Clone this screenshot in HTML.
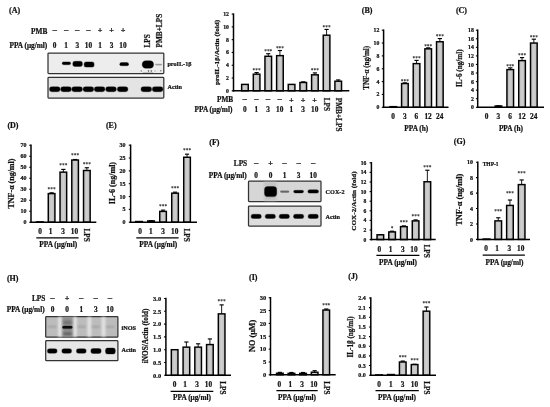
<!DOCTYPE html>
<html><head><meta charset="utf-8"><title>Figure</title>
<style>
html,body{margin:0;padding:0;background:#fff;}
body{width:550px;height:407px;overflow:hidden;}
svg{display:block;}
text{font-family:"Liberation Serif", "Times New Roman", serif;font-weight:bold;fill:#111;stroke:#111;stroke-width:0.22px;}
text.st{fill:#222;stroke:none;}
</style></head><body>
<svg width="550" height="407" viewBox="0 0 550 407">
<defs>
<linearGradient id="bg" x1="0" x2="1" y1="0" y2="0"><stop offset="0" stop-color="#b8b8b8"/><stop offset="0.5" stop-color="#d0d0d0"/><stop offset="1" stop-color="#b8b8b8"/></linearGradient>
<filter id="b0" x="-50%" y="-50%" width="200%" height="200%"><feGaussianBlur stdDeviation="0.8"/></filter>
<filter id="b1" x="-50%" y="-80%" width="200%" height="260%"><feGaussianBlur stdDeviation="0.8"/></filter>
<filter id="b2" x="-50%" y="-80%" width="200%" height="260%"><feGaussianBlur stdDeviation="1.0"/></filter>
</defs>
<rect width="550" height="407" fill="#fff"/>
<text x="9.00" y="12.80" font-size="8" text-anchor="start">(A)</text>
<text x="361.80" y="12.80" font-size="8" text-anchor="start">(B)</text>
<text x="455.90" y="12.80" font-size="8" text-anchor="start">(C)</text>
<text x="7.40" y="127.90" font-size="8" text-anchor="start">(D)</text>
<text x="105.90" y="127.90" font-size="8" text-anchor="start">(E)</text>
<text x="209.30" y="145.00" font-size="8" text-anchor="start">(F)</text>
<text x="453.80" y="144.30" font-size="8" text-anchor="start">(G)</text>
<text x="6.90" y="280.50" font-size="8" text-anchor="start">(H)</text>
<text x="249.00" y="280.20" font-size="8" text-anchor="start">(I)</text>
<text x="348.30" y="279.20" font-size="8" text-anchor="start">(J)</text>
<text x="47.30" y="34.00" font-size="7.3" text-anchor="end">PMB</text>
<text x="47.30" y="48.00" font-size="7.3" text-anchor="end">PPA (μg/ml)</text>
<text x="54.70" y="33.73" font-size="9.5" text-anchor="middle">−</text>
<text x="54.70" y="48.00" font-size="7.3" text-anchor="middle">0</text>
<text x="66.10" y="33.73" font-size="9.5" text-anchor="middle">−</text>
<text x="66.10" y="48.00" font-size="7.3" text-anchor="middle">1</text>
<text x="77.30" y="33.73" font-size="9.5" text-anchor="middle">−</text>
<text x="77.30" y="48.00" font-size="7.3" text-anchor="middle">3</text>
<text x="88.50" y="33.73" font-size="9.5" text-anchor="middle">−</text>
<text x="88.50" y="48.00" font-size="7.3" text-anchor="middle">10</text>
<text x="100.00" y="33.31" font-size="8.2" text-anchor="middle">+</text>
<text x="100.00" y="48.00" font-size="7.3" text-anchor="middle">1</text>
<text x="111.50" y="33.31" font-size="8.2" text-anchor="middle">+</text>
<text x="111.50" y="48.00" font-size="7.3" text-anchor="middle">3</text>
<text x="123.00" y="33.31" font-size="8.2" text-anchor="middle">+</text>
<text x="123.00" y="48.00" font-size="7.3" text-anchor="middle">10</text>
<text x="149.60" y="47.50" font-size="7.3" text-anchor="start" transform="rotate(-90 149.60 47.50)">LPS</text>
<text x="161.60" y="47.50" font-size="7.3" text-anchor="start" transform="rotate(-90 161.60 47.50)">PMB+LPS</text>
<rect x="48.00" y="53.00" width="115.80" height="20.60" fill="#ededed" stroke="#333" stroke-width="1.25" rx="0.8"/>
<rect x="48.00" y="77.40" width="115.80" height="20.60" fill="#e4e4e4" stroke="#333" stroke-width="1.25" rx="0.8"/>
<rect x="62.20" y="61.90" width="8.40" height="2.80" rx="1.40" fill="#000" fill-opacity="1" stroke="#000" stroke-opacity="0.30" stroke-width="1.1"/>
<rect x="72.80" y="61.20" width="9.60" height="5.20" rx="2.20" fill="#000" fill-opacity="1" stroke="#000" stroke-opacity="0.30" stroke-width="1.1"/>
<rect x="84.10" y="61.90" width="10.00" height="5.20" rx="2.20" fill="#000" fill-opacity="1" stroke="#000" stroke-opacity="0.30" stroke-width="1.1"/>
<rect x="119.80" y="62.60" width="8.80" height="3.20" rx="1.60" fill="#000" fill-opacity="1" stroke="#000" stroke-opacity="0.30" stroke-width="1.1"/>
<rect x="142.20" y="60.80" width="11.40" height="7.40" rx="3.70" fill="#000" fill-opacity="1" stroke="#000" stroke-opacity="0.30" stroke-width="1.1"/>
<circle cx="141.3" cy="70.9" r="0.75" fill="#000" opacity="0.45"/>
<circle cx="148.5" cy="71.0" r="0.75" fill="#000" opacity="0.7"/>
<circle cx="151.3" cy="71.0" r="0.75" fill="#000" opacity="0.7"/>
<circle cx="155.0" cy="71.0" r="0.75" fill="#000" opacity="0.25"/>
<circle cx="160.8" cy="70.8" r="0.75" fill="#000" opacity="0.5"/>
<rect x="143" y="72.3" width="10" height="1.2" fill="#000" opacity="0.25"/>
<rect x="155.35" y="63.90" width="6.50" height="1.40" rx="0.70" fill="#000" fill-opacity="0.3" stroke="#000" stroke-opacity="0.09" stroke-width="1.1"/>
<rect x="49.50" y="86.70" width="10.60" height="5.00" rx="2.40" fill="#000" fill-opacity="1" stroke="#000" stroke-opacity="0.30" stroke-width="1.1"/>
<rect x="60.70" y="86.70" width="10.60" height="5.00" rx="2.40" fill="#000" fill-opacity="1" stroke="#000" stroke-opacity="0.30" stroke-width="1.1"/>
<rect x="71.80" y="86.70" width="10.60" height="5.00" rx="2.40" fill="#000" fill-opacity="1" stroke="#000" stroke-opacity="0.30" stroke-width="1.1"/>
<rect x="83.10" y="86.70" width="10.60" height="5.00" rx="2.40" fill="#000" fill-opacity="1" stroke="#000" stroke-opacity="0.30" stroke-width="1.1"/>
<rect x="94.30" y="86.70" width="10.60" height="5.00" rx="2.40" fill="#000" fill-opacity="1" stroke="#000" stroke-opacity="0.30" stroke-width="1.1"/>
<rect x="105.70" y="86.70" width="10.60" height="5.00" rx="2.40" fill="#000" fill-opacity="1" stroke="#000" stroke-opacity="0.30" stroke-width="1.1"/>
<rect x="117.30" y="86.70" width="10.60" height="5.00" rx="2.40" fill="#000" fill-opacity="1" stroke="#000" stroke-opacity="0.30" stroke-width="1.1"/>
<rect x="141.00" y="86.70" width="10.60" height="5.00" rx="2.40" fill="#000" fill-opacity="1" stroke="#000" stroke-opacity="0.30" stroke-width="1.1"/>
<rect x="152.30" y="86.70" width="10.60" height="5.00" rx="2.40" fill="#000" fill-opacity="1" stroke="#000" stroke-opacity="0.30" stroke-width="1.1"/>
<text x="167.40" y="65.60" font-size="6.2" text-anchor="start">proIL-1β</text>
<text x="167.50" y="88.70" font-size="6.2" text-anchor="start">Actin</text>
<rect x="241.62" y="84.41" width="6.65" height="6.39" fill="url(#bg)" stroke="#000" stroke-width="1.45"/>
<line x1="256.61" y1="74.18" x2="256.61" y2="72.58" stroke="#000" stroke-width="0.9"/>
<line x1="254.51" y1="72.58" x2="258.71" y2="72.58" stroke="#000" stroke-width="1.15"/>
<rect x="253.28" y="74.18" width="6.65" height="16.62" fill="url(#bg)" stroke="#000" stroke-width="1.45"/>
<text x="256.61" y="72.09" font-size="5.4" text-anchor="middle" class="st">***</text>
<line x1="268.27" y1="56.28" x2="268.27" y2="53.73" stroke="#000" stroke-width="0.9"/>
<line x1="266.17" y1="53.73" x2="270.37" y2="53.73" stroke="#000" stroke-width="1.15"/>
<rect x="264.94" y="56.28" width="6.65" height="34.52" fill="url(#bg)" stroke="#000" stroke-width="1.45"/>
<text x="268.27" y="53.24" font-size="5.4" text-anchor="middle" class="st">***</text>
<line x1="279.93" y1="55.65" x2="279.93" y2="50.53" stroke="#000" stroke-width="0.9"/>
<line x1="277.83" y1="50.53" x2="282.03" y2="50.53" stroke="#000" stroke-width="1.15"/>
<rect x="276.60" y="55.65" width="6.65" height="35.15" fill="url(#bg)" stroke="#000" stroke-width="1.45"/>
<text x="279.93" y="50.04" font-size="5.4" text-anchor="middle" class="st">***</text>
<rect x="288.26" y="84.41" width="6.65" height="6.39" fill="url(#bg)" stroke="#000" stroke-width="1.45"/>
<line x1="303.25" y1="82.49" x2="303.25" y2="81.85" stroke="#000" stroke-width="0.9"/>
<line x1="301.15" y1="81.85" x2="305.35" y2="81.85" stroke="#000" stroke-width="1.15"/>
<rect x="299.92" y="82.49" width="6.65" height="8.31" fill="url(#bg)" stroke="#000" stroke-width="1.45"/>
<line x1="314.91" y1="74.82" x2="314.91" y2="72.90" stroke="#000" stroke-width="0.9"/>
<line x1="312.81" y1="72.90" x2="317.01" y2="72.90" stroke="#000" stroke-width="1.15"/>
<rect x="311.58" y="74.82" width="6.65" height="15.98" fill="url(#bg)" stroke="#000" stroke-width="1.45"/>
<text x="314.91" y="72.41" font-size="5.4" text-anchor="middle" class="st">***</text>
<line x1="326.57" y1="35.19" x2="326.57" y2="29.44" stroke="#000" stroke-width="0.9"/>
<line x1="324.47" y1="29.44" x2="328.67" y2="29.44" stroke="#000" stroke-width="1.15"/>
<rect x="323.24" y="35.19" width="6.65" height="55.61" fill="url(#bg)" stroke="#000" stroke-width="1.45"/>
<text x="326.57" y="28.95" font-size="5.4" text-anchor="middle" class="st">***</text>
<line x1="338.23" y1="81.21" x2="338.23" y2="79.93" stroke="#000" stroke-width="0.9"/>
<line x1="336.13" y1="79.93" x2="340.33" y2="79.93" stroke="#000" stroke-width="1.15"/>
<rect x="334.90" y="81.21" width="6.65" height="9.59" fill="url(#bg)" stroke="#000" stroke-width="1.45"/>
<line x1="233.50" y1="13.40" x2="233.50" y2="91.55" stroke="#000" stroke-width="1.5"/>
<line x1="232.75" y1="90.80" x2="349.30" y2="90.80" stroke="#000" stroke-width="1.5"/>
<line x1="231.70" y1="90.80" x2="233.50" y2="90.80" stroke="#000" stroke-width="1.1"/>
<text x="229.00" y="92.83" font-size="5.8" text-anchor="end">0</text>
<line x1="231.70" y1="78.02" x2="233.50" y2="78.02" stroke="#000" stroke-width="1.1"/>
<text x="229.00" y="80.05" font-size="5.8" text-anchor="end">2</text>
<line x1="231.70" y1="65.23" x2="233.50" y2="65.23" stroke="#000" stroke-width="1.1"/>
<text x="229.00" y="67.26" font-size="5.8" text-anchor="end">4</text>
<line x1="231.70" y1="52.45" x2="233.50" y2="52.45" stroke="#000" stroke-width="1.1"/>
<text x="229.00" y="54.48" font-size="5.8" text-anchor="end">6</text>
<line x1="231.70" y1="39.67" x2="233.50" y2="39.67" stroke="#000" stroke-width="1.1"/>
<text x="229.00" y="41.70" font-size="5.8" text-anchor="end">8</text>
<line x1="231.70" y1="26.88" x2="233.50" y2="26.88" stroke="#000" stroke-width="1.1"/>
<text x="229.00" y="28.91" font-size="5.8" text-anchor="end">10</text>
<line x1="231.70" y1="14.10" x2="233.50" y2="14.10" stroke="#000" stroke-width="1.1"/>
<text x="229.00" y="16.13" font-size="5.8" text-anchor="end">12</text>
<text x="219.30" y="52.45" font-size="6.7" text-anchor="middle" transform="rotate(-90 219.30 52.45)" textLength="65.2" lengthAdjust="spacingAndGlyphs">proIL-1β/Actin (fold)</text>
<text x="233.20" y="102.40" font-size="7.3" text-anchor="end">PMB</text>
<text x="232.40" y="111.80" font-size="7.3" text-anchor="end">PPA (μg/ml)</text>
<text x="244.75" y="103.14" font-size="9.5" text-anchor="middle">−</text>
<text x="244.75" y="111.80" font-size="7.3" text-anchor="middle">0</text>
<text x="256.41" y="103.14" font-size="9.5" text-anchor="middle">−</text>
<text x="256.41" y="111.80" font-size="7.3" text-anchor="middle">1</text>
<text x="268.07" y="103.14" font-size="9.5" text-anchor="middle">−</text>
<text x="268.07" y="111.80" font-size="7.3" text-anchor="middle">3</text>
<text x="279.73" y="103.14" font-size="9.5" text-anchor="middle">−</text>
<text x="279.73" y="111.80" font-size="7.3" text-anchor="middle">10</text>
<text x="291.39" y="102.71" font-size="8.2" text-anchor="middle">+</text>
<text x="291.39" y="111.80" font-size="7.3" text-anchor="middle">1</text>
<text x="303.05" y="102.71" font-size="8.2" text-anchor="middle">+</text>
<text x="303.05" y="111.80" font-size="7.3" text-anchor="middle">3</text>
<text x="314.71" y="102.71" font-size="8.2" text-anchor="middle">+</text>
<text x="314.71" y="111.80" font-size="7.3" text-anchor="middle">10</text>
<text x="323.90" y="97.70" font-size="7.3" text-anchor="start" transform="rotate(90 323.90 97.70)">LPS</text>
<text x="335.80" y="97.70" font-size="7.3" text-anchor="start" transform="rotate(90 335.80 97.70)">PMB+LPS</text>
<rect x="389.92" y="106.66" width="6.65" height="0.64" fill="url(#bg)" stroke="#000" stroke-width="1.45"/>
<line x1="404.90" y1="83.53" x2="404.90" y2="82.88" stroke="#000" stroke-width="0.9"/>
<line x1="402.80" y1="82.88" x2="407.00" y2="82.88" stroke="#000" stroke-width="1.15"/>
<rect x="401.57" y="83.53" width="6.65" height="23.77" fill="url(#bg)" stroke="#000" stroke-width="1.45"/>
<text x="404.90" y="82.69" font-size="5.4" text-anchor="middle" class="st">***</text>
<line x1="416.55" y1="63.61" x2="416.55" y2="60.40" stroke="#000" stroke-width="0.9"/>
<line x1="414.45" y1="60.40" x2="418.65" y2="60.40" stroke="#000" stroke-width="1.15"/>
<rect x="413.22" y="63.61" width="6.65" height="43.69" fill="url(#bg)" stroke="#000" stroke-width="1.45"/>
<text x="416.55" y="60.21" font-size="5.4" text-anchor="middle" class="st">***</text>
<line x1="428.20" y1="48.83" x2="428.20" y2="47.87" stroke="#000" stroke-width="0.9"/>
<line x1="426.10" y1="47.87" x2="430.30" y2="47.87" stroke="#000" stroke-width="1.15"/>
<rect x="424.87" y="48.83" width="6.65" height="58.47" fill="url(#bg)" stroke="#000" stroke-width="1.45"/>
<text x="428.20" y="47.68" font-size="5.4" text-anchor="middle" class="st">***</text>
<line x1="439.85" y1="41.77" x2="439.85" y2="38.55" stroke="#000" stroke-width="0.9"/>
<line x1="437.75" y1="38.55" x2="441.95" y2="38.55" stroke="#000" stroke-width="1.15"/>
<rect x="436.52" y="41.77" width="6.65" height="65.53" fill="url(#bg)" stroke="#000" stroke-width="1.45"/>
<text x="439.85" y="38.36" font-size="5.4" text-anchor="middle" class="st">***</text>
<line x1="383.60" y1="29.50" x2="383.60" y2="108.05" stroke="#000" stroke-width="1.5"/>
<line x1="382.85" y1="107.30" x2="448.50" y2="107.30" stroke="#000" stroke-width="1.5"/>
<line x1="381.80" y1="107.30" x2="383.60" y2="107.30" stroke="#000" stroke-width="1.1"/>
<text x="379.40" y="109.33" font-size="5.8" text-anchor="end">0</text>
<line x1="381.80" y1="94.45" x2="383.60" y2="94.45" stroke="#000" stroke-width="1.1"/>
<text x="379.40" y="96.48" font-size="5.8" text-anchor="end">2</text>
<line x1="381.80" y1="81.60" x2="383.60" y2="81.60" stroke="#000" stroke-width="1.1"/>
<text x="379.40" y="83.63" font-size="5.8" text-anchor="end">4</text>
<line x1="381.80" y1="68.75" x2="383.60" y2="68.75" stroke="#000" stroke-width="1.1"/>
<text x="379.40" y="70.78" font-size="5.8" text-anchor="end">6</text>
<line x1="381.80" y1="55.90" x2="383.60" y2="55.90" stroke="#000" stroke-width="1.1"/>
<text x="379.40" y="57.93" font-size="5.8" text-anchor="end">8</text>
<line x1="381.80" y1="43.05" x2="383.60" y2="43.05" stroke="#000" stroke-width="1.1"/>
<text x="379.40" y="45.08" font-size="5.8" text-anchor="end">10</text>
<line x1="381.80" y1="30.20" x2="383.60" y2="30.20" stroke="#000" stroke-width="1.1"/>
<text x="379.40" y="32.23" font-size="5.8" text-anchor="end">12</text>
<text x="368.60" y="67.85" font-size="7.4" text-anchor="middle" transform="rotate(-90 368.60 67.85)" textLength="43.8" lengthAdjust="spacingAndGlyphs">TNF-α (ng/ml)</text>
<text x="393.10" y="119.20" font-size="7.3" text-anchor="middle">0</text>
<text x="404.75" y="119.20" font-size="7.3" text-anchor="middle">3</text>
<text x="416.40" y="119.20" font-size="7.3" text-anchor="middle">6</text>
<text x="428.05" y="119.20" font-size="7.3" text-anchor="middle">12</text>
<text x="439.70" y="119.20" font-size="7.3" text-anchor="middle">24</text>
<text x="416.30" y="130.80" font-size="7.3" text-anchor="middle">PPA (h)</text>
<line x1="498.45" y1="106.02" x2="498.45" y2="105.80" stroke="#000" stroke-width="0.9"/>
<line x1="496.35" y1="105.80" x2="500.55" y2="105.80" stroke="#000" stroke-width="1.15"/>
<rect x="495.12" y="106.02" width="6.65" height="1.28" fill="url(#bg)" stroke="#000" stroke-width="1.45"/>
<line x1="510.25" y1="69.61" x2="510.25" y2="67.89" stroke="#000" stroke-width="0.9"/>
<line x1="508.15" y1="67.89" x2="512.35" y2="67.89" stroke="#000" stroke-width="1.15"/>
<rect x="506.92" y="69.61" width="6.65" height="37.69" fill="url(#bg)" stroke="#000" stroke-width="1.45"/>
<text x="510.25" y="67.70" font-size="5.4" text-anchor="middle" class="st">***</text>
<line x1="522.05" y1="60.61" x2="522.05" y2="57.61" stroke="#000" stroke-width="0.9"/>
<line x1="519.95" y1="57.61" x2="524.15" y2="57.61" stroke="#000" stroke-width="1.15"/>
<rect x="518.72" y="60.61" width="6.65" height="46.69" fill="url(#bg)" stroke="#000" stroke-width="1.45"/>
<text x="522.05" y="57.42" font-size="5.4" text-anchor="middle" class="st">***</text>
<line x1="533.85" y1="43.05" x2="533.85" y2="39.19" stroke="#000" stroke-width="0.9"/>
<line x1="531.75" y1="39.19" x2="535.95" y2="39.19" stroke="#000" stroke-width="1.15"/>
<rect x="530.52" y="43.05" width="6.65" height="64.25" fill="url(#bg)" stroke="#000" stroke-width="1.45"/>
<text x="533.85" y="39.00" font-size="5.4" text-anchor="middle" class="st">***</text>
<line x1="477.70" y1="29.50" x2="477.70" y2="108.05" stroke="#000" stroke-width="1.5"/>
<line x1="476.95" y1="107.30" x2="544.00" y2="107.30" stroke="#000" stroke-width="1.5"/>
<line x1="475.90" y1="107.30" x2="477.70" y2="107.30" stroke="#000" stroke-width="1.1"/>
<text x="473.80" y="109.33" font-size="5.8" text-anchor="end">0</text>
<line x1="475.90" y1="98.73" x2="477.70" y2="98.73" stroke="#000" stroke-width="1.1"/>
<text x="473.80" y="100.76" font-size="5.8" text-anchor="end">2</text>
<line x1="475.90" y1="90.17" x2="477.70" y2="90.17" stroke="#000" stroke-width="1.1"/>
<text x="473.80" y="92.20" font-size="5.8" text-anchor="end">4</text>
<line x1="475.90" y1="81.60" x2="477.70" y2="81.60" stroke="#000" stroke-width="1.1"/>
<text x="473.80" y="83.63" font-size="5.8" text-anchor="end">6</text>
<line x1="475.90" y1="73.03" x2="477.70" y2="73.03" stroke="#000" stroke-width="1.1"/>
<text x="473.80" y="75.06" font-size="5.8" text-anchor="end">8</text>
<line x1="475.90" y1="64.47" x2="477.70" y2="64.47" stroke="#000" stroke-width="1.1"/>
<text x="473.80" y="66.50" font-size="5.8" text-anchor="end">10</text>
<line x1="475.90" y1="55.90" x2="477.70" y2="55.90" stroke="#000" stroke-width="1.1"/>
<text x="473.80" y="57.93" font-size="5.8" text-anchor="end">12</text>
<line x1="475.90" y1="47.33" x2="477.70" y2="47.33" stroke="#000" stroke-width="1.1"/>
<text x="473.80" y="49.36" font-size="5.8" text-anchor="end">14</text>
<line x1="475.90" y1="38.77" x2="477.70" y2="38.77" stroke="#000" stroke-width="1.1"/>
<text x="473.80" y="40.80" font-size="5.8" text-anchor="end">16</text>
<line x1="475.90" y1="30.20" x2="477.70" y2="30.20" stroke="#000" stroke-width="1.1"/>
<text x="473.80" y="32.23" font-size="5.8" text-anchor="end">18</text>
<text x="461.90" y="68.25" font-size="7.4" text-anchor="middle" transform="rotate(-90 461.90 68.25)" textLength="37.6" lengthAdjust="spacingAndGlyphs">IL-6 (ng/ml)</text>
<text x="486.50" y="119.20" font-size="7.3" text-anchor="middle">0</text>
<text x="498.30" y="119.20" font-size="7.3" text-anchor="middle">3</text>
<text x="510.10" y="119.20" font-size="7.3" text-anchor="middle">6</text>
<text x="521.90" y="119.20" font-size="7.3" text-anchor="middle">12</text>
<text x="533.70" y="119.20" font-size="7.3" text-anchor="middle">24</text>
<text x="510.90" y="130.80" font-size="7.3" text-anchor="middle">PPA (h)</text>
<rect x="36.52" y="221.87" width="6.65" height="0.33" fill="url(#bg)" stroke="#000" stroke-width="1.45"/>
<line x1="51.60" y1="193.60" x2="51.60" y2="192.83" stroke="#000" stroke-width="0.9"/>
<line x1="49.50" y1="192.83" x2="53.70" y2="192.83" stroke="#000" stroke-width="1.15"/>
<rect x="48.27" y="193.60" width="6.65" height="28.60" fill="url(#bg)" stroke="#000" stroke-width="1.45"/>
<text x="51.60" y="190.64" font-size="5.4" text-anchor="middle" class="st">***</text>
<line x1="63.35" y1="172.15" x2="63.35" y2="169.40" stroke="#000" stroke-width="0.9"/>
<line x1="61.25" y1="169.40" x2="65.45" y2="169.40" stroke="#000" stroke-width="1.15"/>
<rect x="60.02" y="172.15" width="6.65" height="50.05" fill="url(#bg)" stroke="#000" stroke-width="1.45"/>
<text x="63.35" y="167.21" font-size="5.4" text-anchor="middle" class="st">***</text>
<line x1="75.10" y1="160.05" x2="75.10" y2="159.50" stroke="#000" stroke-width="0.9"/>
<line x1="73.00" y1="159.50" x2="77.20" y2="159.50" stroke="#000" stroke-width="1.15"/>
<rect x="71.77" y="160.05" width="6.65" height="62.15" fill="url(#bg)" stroke="#000" stroke-width="1.45"/>
<text x="75.10" y="157.31" font-size="5.4" text-anchor="middle" class="st">***</text>
<line x1="86.85" y1="170.50" x2="86.85" y2="167.75" stroke="#000" stroke-width="0.9"/>
<line x1="84.75" y1="167.75" x2="88.95" y2="167.75" stroke="#000" stroke-width="1.15"/>
<rect x="83.52" y="170.50" width="6.65" height="51.70" fill="url(#bg)" stroke="#000" stroke-width="1.45"/>
<text x="86.85" y="165.56" font-size="5.4" text-anchor="middle" class="st">***</text>
<line x1="31.00" y1="144.50" x2="31.00" y2="222.95" stroke="#000" stroke-width="1.5"/>
<line x1="30.25" y1="222.20" x2="96.30" y2="222.20" stroke="#000" stroke-width="1.5"/>
<line x1="29.20" y1="222.20" x2="31.00" y2="222.20" stroke="#000" stroke-width="1.1"/>
<text x="26.40" y="224.30" font-size="6.0" text-anchor="end">0</text>
<line x1="29.20" y1="211.20" x2="31.00" y2="211.20" stroke="#000" stroke-width="1.1"/>
<text x="26.40" y="213.30" font-size="6.0" text-anchor="end">10</text>
<line x1="29.20" y1="200.20" x2="31.00" y2="200.20" stroke="#000" stroke-width="1.1"/>
<text x="26.40" y="202.30" font-size="6.0" text-anchor="end">20</text>
<line x1="29.20" y1="189.20" x2="31.00" y2="189.20" stroke="#000" stroke-width="1.1"/>
<text x="26.40" y="191.30" font-size="6.0" text-anchor="end">30</text>
<line x1="29.20" y1="178.20" x2="31.00" y2="178.20" stroke="#000" stroke-width="1.1"/>
<text x="26.40" y="180.30" font-size="6.0" text-anchor="end">40</text>
<line x1="29.20" y1="167.20" x2="31.00" y2="167.20" stroke="#000" stroke-width="1.1"/>
<text x="26.40" y="169.30" font-size="6.0" text-anchor="end">50</text>
<line x1="29.20" y1="156.20" x2="31.00" y2="156.20" stroke="#000" stroke-width="1.1"/>
<text x="26.40" y="158.30" font-size="6.0" text-anchor="end">60</text>
<line x1="29.20" y1="145.20" x2="31.00" y2="145.20" stroke="#000" stroke-width="1.1"/>
<text x="26.40" y="147.30" font-size="6.0" text-anchor="end">70</text>
<text x="14.40" y="183.55" font-size="7.4" text-anchor="middle" transform="rotate(-90 14.40 183.55)" textLength="49.8" lengthAdjust="spacingAndGlyphs">TNF-α (ng/ml)</text>
<text x="40.20" y="233.70" font-size="7.3" text-anchor="middle">0</text>
<text x="50.60" y="233.70" font-size="7.3" text-anchor="middle">1</text>
<text x="63.10" y="233.70" font-size="7.3" text-anchor="middle">3</text>
<text x="74.50" y="233.70" font-size="7.3" text-anchor="middle">10</text>
<text x="84.40" y="228.40" font-size="7.3" text-anchor="start" transform="rotate(90 84.40 228.40)">LPS</text>
<line x1="36.30" y1="237.90" x2="78.60" y2="237.90" stroke="#000" stroke-width="1.2"/>
<text x="58.20" y="246.60" font-size="7.3" text-anchor="middle">PPA (μg/ml)</text>
<rect x="135.00" y="220.80" width="8.10" height="1.40" fill="#000" stroke="none" stroke-width="0"/>
<line x1="151.05" y1="220.92" x2="151.05" y2="220.66" stroke="#000" stroke-width="0.9"/>
<line x1="148.95" y1="220.66" x2="153.15" y2="220.66" stroke="#000" stroke-width="1.15"/>
<rect x="147.72" y="220.92" width="6.65" height="1.28" fill="url(#bg)" stroke="#000" stroke-width="1.45"/>
<line x1="163.05" y1="211.42" x2="163.05" y2="210.14" stroke="#000" stroke-width="0.9"/>
<line x1="160.95" y1="210.14" x2="165.15" y2="210.14" stroke="#000" stroke-width="1.15"/>
<rect x="159.72" y="211.42" width="6.65" height="10.78" fill="url(#bg)" stroke="#000" stroke-width="1.45"/>
<text x="163.05" y="207.94" font-size="5.4" text-anchor="middle" class="st">***</text>
<line x1="175.05" y1="193.20" x2="175.05" y2="192.17" stroke="#000" stroke-width="0.9"/>
<line x1="172.95" y1="192.17" x2="177.15" y2="192.17" stroke="#000" stroke-width="1.15"/>
<rect x="171.72" y="193.20" width="6.65" height="29.00" fill="url(#bg)" stroke="#000" stroke-width="1.45"/>
<text x="175.05" y="189.98" font-size="5.4" text-anchor="middle" class="st">***</text>
<line x1="187.05" y1="157.26" x2="187.05" y2="154.18" stroke="#000" stroke-width="0.9"/>
<line x1="184.95" y1="154.18" x2="189.15" y2="154.18" stroke="#000" stroke-width="1.15"/>
<rect x="183.72" y="157.26" width="6.65" height="64.94" fill="url(#bg)" stroke="#000" stroke-width="1.45"/>
<text x="187.05" y="151.99" font-size="5.4" text-anchor="middle" class="st">***</text>
<line x1="130.60" y1="144.50" x2="130.60" y2="222.95" stroke="#000" stroke-width="1.5"/>
<line x1="129.85" y1="222.20" x2="197.00" y2="222.20" stroke="#000" stroke-width="1.5"/>
<line x1="128.80" y1="222.20" x2="130.60" y2="222.20" stroke="#000" stroke-width="1.1"/>
<text x="125.60" y="224.30" font-size="6.0" text-anchor="end">0</text>
<line x1="128.80" y1="209.37" x2="130.60" y2="209.37" stroke="#000" stroke-width="1.1"/>
<text x="125.60" y="211.47" font-size="6.0" text-anchor="end">5</text>
<line x1="128.80" y1="196.53" x2="130.60" y2="196.53" stroke="#000" stroke-width="1.1"/>
<text x="125.60" y="198.63" font-size="6.0" text-anchor="end">10</text>
<line x1="128.80" y1="183.70" x2="130.60" y2="183.70" stroke="#000" stroke-width="1.1"/>
<text x="125.60" y="185.80" font-size="6.0" text-anchor="end">15</text>
<line x1="128.80" y1="170.87" x2="130.60" y2="170.87" stroke="#000" stroke-width="1.1"/>
<text x="125.60" y="172.97" font-size="6.0" text-anchor="end">20</text>
<line x1="128.80" y1="158.03" x2="130.60" y2="158.03" stroke="#000" stroke-width="1.1"/>
<text x="125.60" y="160.13" font-size="6.0" text-anchor="end">25</text>
<line x1="128.80" y1="145.20" x2="130.60" y2="145.20" stroke="#000" stroke-width="1.1"/>
<text x="125.60" y="147.30" font-size="6.0" text-anchor="end">30</text>
<text x="114.70" y="183.10" font-size="7.5" text-anchor="middle" transform="rotate(-90 114.70 183.10)" textLength="42.3" lengthAdjust="spacingAndGlyphs">IL-6 (ng/ml)</text>
<text x="140.10" y="233.70" font-size="7.3" text-anchor="middle">0</text>
<text x="150.80" y="233.70" font-size="7.3" text-anchor="middle">1</text>
<text x="163.20" y="233.70" font-size="7.3" text-anchor="middle">3</text>
<text x="174.70" y="233.70" font-size="7.3" text-anchor="middle">10</text>
<text x="184.40" y="228.40" font-size="7.3" text-anchor="start" transform="rotate(90 184.40 228.40)">LPS</text>
<line x1="136.30" y1="237.90" x2="178.60" y2="237.90" stroke="#000" stroke-width="1.2"/>
<text x="158.20" y="246.60" font-size="7.3" text-anchor="middle">PPA (μg/ml)</text>
<text x="247.20" y="165.80" font-size="7.3" text-anchor="end">LPS</text>
<text x="246.70" y="177.80" font-size="7.3" text-anchor="end">PPA (μg/ml)</text>
<text x="256.10" y="166.53" font-size="9.5" text-anchor="middle">−</text>
<text x="256.10" y="177.80" font-size="7.3" text-anchor="middle">0</text>
<text x="270.50" y="166.11" font-size="8.2" text-anchor="middle">+</text>
<text x="270.50" y="177.80" font-size="7.3" text-anchor="middle">0</text>
<text x="284.50" y="166.53" font-size="9.5" text-anchor="middle">−</text>
<text x="284.50" y="177.80" font-size="7.3" text-anchor="middle">1</text>
<text x="298.60" y="166.53" font-size="9.5" text-anchor="middle">−</text>
<text x="298.60" y="177.80" font-size="7.3" text-anchor="middle">3</text>
<text x="313.20" y="166.53" font-size="9.5" text-anchor="middle">−</text>
<text x="313.20" y="177.80" font-size="7.3" text-anchor="middle">10</text>
<rect x="248.50" y="181.10" width="72.50" height="20.40" fill="#d6d6d6" stroke="#333" stroke-width="1.25" rx="0.8"/>
<rect x="264.00" y="182.00" width="12.50" height="18.60" fill="#c4c4c4" stroke="none" stroke-width="0" filter="url(#b2)"/>
<rect x="248.50" y="206.00" width="72.50" height="20.00" fill="#dddddd" stroke="#333" stroke-width="1.25" rx="0.8"/>
<rect x="264.50" y="186.60" width="12.20" height="10.00" rx="3.40" fill="#000" fill-opacity="1" stroke="#000" stroke-opacity="0.30" stroke-width="1.1"/>
<rect x="280.40" y="190.70" width="8.60" height="1.80" rx="0.90" fill="#000" fill-opacity="0.5" stroke="#000" stroke-opacity="0.15" stroke-width="1.1"/>
<rect x="293.70" y="190.20" width="9.80" height="2.80" rx="1.40" fill="#000" fill-opacity="1" stroke="#000" stroke-opacity="0.30" stroke-width="1.1"/>
<rect x="307.90" y="189.70" width="10.60" height="3.40" rx="1.70" fill="#000" fill-opacity="1" stroke="#000" stroke-opacity="0.30" stroke-width="1.1"/>
<rect x="251.10" y="214.30" width="10.20" height="4.20" rx="2.10" fill="#000" fill-opacity="1" stroke="#000" stroke-opacity="0.30" stroke-width="1.1"/>
<rect x="265.20" y="214.30" width="10.20" height="4.20" rx="2.10" fill="#000" fill-opacity="1" stroke="#000" stroke-opacity="0.30" stroke-width="1.1"/>
<rect x="279.20" y="214.30" width="10.20" height="4.20" rx="2.10" fill="#000" fill-opacity="1" stroke="#000" stroke-opacity="0.30" stroke-width="1.1"/>
<rect x="293.50" y="214.30" width="10.20" height="4.20" rx="2.10" fill="#000" fill-opacity="1" stroke="#000" stroke-opacity="0.30" stroke-width="1.1"/>
<rect x="308.10" y="214.30" width="10.20" height="4.20" rx="2.10" fill="#000" fill-opacity="1" stroke="#000" stroke-opacity="0.30" stroke-width="1.1"/>
<text x="325.60" y="193.60" font-size="6.2" text-anchor="start">COX-2</text>
<text x="325.50" y="219.20" font-size="6.2" text-anchor="start">Actin</text>
<line x1="380.35" y1="234.80" x2="380.35" y2="234.56" stroke="#000" stroke-width="0.9"/>
<line x1="378.25" y1="234.56" x2="382.45" y2="234.56" stroke="#000" stroke-width="1.15"/>
<rect x="377.02" y="234.80" width="6.65" height="4.80" fill="url(#bg)" stroke="#000" stroke-width="1.45"/>
<line x1="392.10" y1="231.92" x2="392.10" y2="231.20" stroke="#000" stroke-width="0.9"/>
<line x1="390.00" y1="231.20" x2="394.20" y2="231.20" stroke="#000" stroke-width="1.15"/>
<rect x="388.77" y="231.92" width="6.65" height="7.68" fill="url(#bg)" stroke="#000" stroke-width="1.45"/>
<text x="392.10" y="229.51" font-size="5.4" text-anchor="middle" class="st">*</text>
<line x1="403.85" y1="226.64" x2="403.85" y2="225.92" stroke="#000" stroke-width="0.9"/>
<line x1="401.75" y1="225.92" x2="405.95" y2="225.92" stroke="#000" stroke-width="1.15"/>
<rect x="400.52" y="226.64" width="6.65" height="12.96" fill="url(#bg)" stroke="#000" stroke-width="1.45"/>
<text x="403.85" y="224.23" font-size="5.4" text-anchor="middle" class="st">***</text>
<line x1="415.60" y1="220.88" x2="415.60" y2="219.92" stroke="#000" stroke-width="0.9"/>
<line x1="413.50" y1="219.92" x2="417.70" y2="219.92" stroke="#000" stroke-width="1.15"/>
<rect x="412.27" y="220.88" width="6.65" height="18.72" fill="url(#bg)" stroke="#000" stroke-width="1.45"/>
<text x="415.60" y="218.23" font-size="5.4" text-anchor="middle" class="st">***</text>
<line x1="427.35" y1="181.76" x2="427.35" y2="170.24" stroke="#000" stroke-width="0.9"/>
<line x1="425.25" y1="170.24" x2="429.45" y2="170.24" stroke="#000" stroke-width="1.15"/>
<rect x="424.02" y="181.76" width="6.65" height="57.84" fill="url(#bg)" stroke="#000" stroke-width="1.45"/>
<text x="427.35" y="168.55" font-size="5.4" text-anchor="middle" class="st">***</text>
<line x1="371.40" y1="162.10" x2="371.40" y2="240.35" stroke="#000" stroke-width="1.5"/>
<line x1="370.65" y1="239.60" x2="435.70" y2="239.60" stroke="#000" stroke-width="1.5"/>
<line x1="369.60" y1="239.60" x2="371.40" y2="239.60" stroke="#000" stroke-width="1.1"/>
<text x="366.30" y="241.56" font-size="5.6" text-anchor="end">0</text>
<line x1="369.60" y1="230.00" x2="371.40" y2="230.00" stroke="#000" stroke-width="1.1"/>
<text x="366.30" y="231.96" font-size="5.6" text-anchor="end">2</text>
<line x1="369.60" y1="220.40" x2="371.40" y2="220.40" stroke="#000" stroke-width="1.1"/>
<text x="366.30" y="222.36" font-size="5.6" text-anchor="end">4</text>
<line x1="369.60" y1="210.80" x2="371.40" y2="210.80" stroke="#000" stroke-width="1.1"/>
<text x="366.30" y="212.76" font-size="5.6" text-anchor="end">6</text>
<line x1="369.60" y1="201.20" x2="371.40" y2="201.20" stroke="#000" stroke-width="1.1"/>
<text x="366.30" y="203.16" font-size="5.6" text-anchor="end">8</text>
<line x1="369.60" y1="191.60" x2="371.40" y2="191.60" stroke="#000" stroke-width="1.1"/>
<text x="366.30" y="193.56" font-size="5.6" text-anchor="end">10</text>
<line x1="369.60" y1="182.00" x2="371.40" y2="182.00" stroke="#000" stroke-width="1.1"/>
<text x="366.30" y="183.96" font-size="5.6" text-anchor="end">12</text>
<line x1="369.60" y1="172.40" x2="371.40" y2="172.40" stroke="#000" stroke-width="1.1"/>
<text x="366.30" y="174.36" font-size="5.6" text-anchor="end">14</text>
<line x1="369.60" y1="162.80" x2="371.40" y2="162.80" stroke="#000" stroke-width="1.1"/>
<text x="366.30" y="164.76" font-size="5.6" text-anchor="end">16</text>
<text x="356.10" y="201.00" font-size="6.8" text-anchor="middle" transform="rotate(-90 356.10 201.00)" textLength="59.3" lengthAdjust="spacingAndGlyphs">COX-2/Actin (fold)</text>
<text x="379.40" y="251.70" font-size="7.3" text-anchor="middle">0</text>
<text x="390.60" y="251.70" font-size="7.3" text-anchor="middle">1</text>
<text x="402.80" y="251.70" font-size="7.3" text-anchor="middle">3</text>
<text x="413.90" y="251.70" font-size="7.3" text-anchor="middle">10</text>
<text x="424.00" y="244.40" font-size="7.3" text-anchor="start" transform="rotate(90 424.00 244.40)">LPS</text>
<line x1="376.40" y1="255.40" x2="419.40" y2="255.40" stroke="#000" stroke-width="1.2"/>
<text x="398.00" y="264.80" font-size="7.3" text-anchor="middle">PPA (μg/ml)</text>
<rect x="483.22" y="239.01" width="6.65" height="0.39" fill="url(#bg)" stroke="#000" stroke-width="1.45"/>
<line x1="498.25" y1="220.87" x2="498.25" y2="217.78" stroke="#000" stroke-width="0.9"/>
<line x1="496.15" y1="217.78" x2="500.35" y2="217.78" stroke="#000" stroke-width="1.15"/>
<rect x="494.92" y="220.87" width="6.65" height="18.53" fill="url(#bg)" stroke="#000" stroke-width="1.45"/>
<text x="498.25" y="212.79" font-size="5.4" text-anchor="middle" class="st">***</text>
<line x1="509.95" y1="205.43" x2="509.95" y2="200.03" stroke="#000" stroke-width="0.9"/>
<line x1="507.85" y1="200.03" x2="512.05" y2="200.03" stroke="#000" stroke-width="1.15"/>
<rect x="506.62" y="205.43" width="6.65" height="33.97" fill="url(#bg)" stroke="#000" stroke-width="1.45"/>
<text x="509.95" y="195.04" font-size="5.4" text-anchor="middle" class="st">***</text>
<line x1="521.65" y1="184.59" x2="521.65" y2="179.96" stroke="#000" stroke-width="0.9"/>
<line x1="519.55" y1="179.96" x2="523.75" y2="179.96" stroke="#000" stroke-width="1.15"/>
<rect x="518.32" y="184.59" width="6.65" height="54.81" fill="url(#bg)" stroke="#000" stroke-width="1.45"/>
<text x="521.65" y="174.96" font-size="5.4" text-anchor="middle" class="st">***</text>
<line x1="477.80" y1="161.50" x2="477.80" y2="240.15" stroke="#000" stroke-width="1.5"/>
<line x1="477.05" y1="239.40" x2="530.00" y2="239.40" stroke="#000" stroke-width="1.5"/>
<line x1="476.00" y1="239.40" x2="477.80" y2="239.40" stroke="#000" stroke-width="1.1"/>
<text x="472.90" y="241.50" font-size="6.0" text-anchor="end">0</text>
<line x1="476.00" y1="223.96" x2="477.80" y2="223.96" stroke="#000" stroke-width="1.1"/>
<text x="472.90" y="226.06" font-size="6.0" text-anchor="end">2</text>
<line x1="476.00" y1="208.52" x2="477.80" y2="208.52" stroke="#000" stroke-width="1.1"/>
<text x="472.90" y="210.62" font-size="6.0" text-anchor="end">4</text>
<line x1="476.00" y1="193.08" x2="477.80" y2="193.08" stroke="#000" stroke-width="1.1"/>
<text x="472.90" y="195.18" font-size="6.0" text-anchor="end">6</text>
<line x1="476.00" y1="177.64" x2="477.80" y2="177.64" stroke="#000" stroke-width="1.1"/>
<text x="472.90" y="179.74" font-size="6.0" text-anchor="end">8</text>
<line x1="476.00" y1="162.20" x2="477.80" y2="162.20" stroke="#000" stroke-width="1.1"/>
<text x="472.90" y="164.30" font-size="6.0" text-anchor="end">10</text>
<text x="461.60" y="199.75" font-size="8.0" text-anchor="middle" transform="rotate(-90 461.60 199.75)" textLength="52.2" lengthAdjust="spacingAndGlyphs">TNF-α (ng/ml)</text>
<text x="486.10" y="251.40" font-size="7.3" text-anchor="middle">0</text>
<text x="497.00" y="251.40" font-size="7.3" text-anchor="middle">1</text>
<text x="509.40" y="251.40" font-size="7.3" text-anchor="middle">3</text>
<text x="520.70" y="251.40" font-size="7.3" text-anchor="middle">10</text>
<text x="482.70" y="166.30" font-size="5.5" text-anchor="start">THP-1</text>
<line x1="482.70" y1="255.20" x2="524.90" y2="255.20" stroke="#000" stroke-width="1.2"/>
<text x="504.50" y="264.60" font-size="7.3" text-anchor="middle">PPA (μg/ml)</text>
<text x="45.30" y="300.90" font-size="7.3" text-anchor="end">LPS</text>
<text x="44.60" y="312.30" font-size="7.3" text-anchor="end">PPA (μg/ml)</text>
<text x="52.50" y="301.74" font-size="9.5" text-anchor="middle">−</text>
<text x="52.50" y="312.30" font-size="7.3" text-anchor="middle">0</text>
<text x="67.00" y="301.31" font-size="8.2" text-anchor="middle">+</text>
<text x="67.00" y="312.30" font-size="7.3" text-anchor="middle">0</text>
<text x="81.30" y="301.74" font-size="9.5" text-anchor="middle">−</text>
<text x="81.30" y="312.30" font-size="7.3" text-anchor="middle">1</text>
<text x="95.80" y="301.74" font-size="9.5" text-anchor="middle">−</text>
<text x="95.80" y="312.30" font-size="7.3" text-anchor="middle">3</text>
<text x="110.00" y="301.74" font-size="9.5" text-anchor="middle">−</text>
<text x="110.00" y="312.30" font-size="7.3" text-anchor="middle">10</text>
<rect x="45.70" y="316.60" width="72.20" height="20.60" fill="#bcbcbc" stroke="#333" stroke-width="1.25" rx="0.8"/>
<rect x="58.10" y="317.00" width="3.90" height="19.80" fill="#e2e2e2" stroke="none" stroke-width="0" filter="url(#b0)"/>
<rect x="73.00" y="317.00" width="3.90" height="19.80" fill="#e2e2e2" stroke="none" stroke-width="0" filter="url(#b0)"/>
<rect x="87.40" y="317.00" width="3.90" height="19.80" fill="#e2e2e2" stroke="none" stroke-width="0" filter="url(#b0)"/>
<rect x="101.60" y="317.00" width="3.90" height="19.80" fill="#e2e2e2" stroke="none" stroke-width="0" filter="url(#b0)"/>
<rect x="62.40" y="317.00" width="10.20" height="19.80" fill="#8e8e8e" stroke="none" stroke-width="0" filter="url(#b0)"/>
<rect x="62.50" y="326.00" width="9.80" height="2.60" rx="1.30" fill="#000" fill-opacity="0.92" stroke="#000" stroke-opacity="0.28" stroke-width="1.1"/>
<rect x="63.00" y="321.60" width="9.00" height="2.00" rx="1.00" fill="#000" opacity="0.3" filter="url(#b2)"/>
<rect x="63.00" y="332.50" width="9.00" height="2.60" rx="1.30" fill="#000" opacity="0.35" filter="url(#b2)"/>
<rect x="47.50" y="326.00" width="9.00" height="1.60" rx="0.80" fill="#000" opacity="0.18" filter="url(#b2)"/>
<rect x="77.00" y="326.00" width="9.00" height="1.60" rx="0.80" fill="#000" opacity="0.18" filter="url(#b2)"/>
<rect x="91.30" y="326.00" width="9.00" height="1.60" rx="0.80" fill="#000" opacity="0.18" filter="url(#b2)"/>
<rect x="105.50" y="326.00" width="9.00" height="1.60" rx="0.80" fill="#000" opacity="0.18" filter="url(#b2)"/>
<rect x="45.70" y="340.60" width="72.20" height="20.10" fill="#e6e6e6" stroke="#333" stroke-width="1.25" rx="0.8"/>
<rect x="47.30" y="348.70" width="9.80" height="4.60" rx="2.20" fill="#000" fill-opacity="1" stroke="#000" stroke-opacity="0.30" stroke-width="1.1"/>
<rect x="61.80" y="348.70" width="9.80" height="4.60" rx="2.20" fill="#000" fill-opacity="1" stroke="#000" stroke-opacity="0.30" stroke-width="1.1"/>
<rect x="76.40" y="348.80" width="9.80" height="4.40" rx="2.20" fill="#000" fill-opacity="1" stroke="#000" stroke-opacity="0.30" stroke-width="1.1"/>
<rect x="90.90" y="348.60" width="10.20" height="4.80" rx="2.20" fill="#000" fill-opacity="1" stroke="#000" stroke-opacity="0.30" stroke-width="1.1"/>
<rect x="105.50" y="348.10" width="9.80" height="5.80" rx="2.20" fill="#000" fill-opacity="1" stroke="#000" stroke-opacity="0.30" stroke-width="1.1"/>
<text x="121.50" y="329.80" font-size="6.2" text-anchor="start">iNOS</text>
<text x="121.50" y="352.40" font-size="6.2" text-anchor="start">Actin</text>
<rect x="171.32" y="349.70" width="6.65" height="25.60" fill="url(#bg)" stroke="#000" stroke-width="1.45"/>
<line x1="186.40" y1="347.14" x2="186.40" y2="342.02" stroke="#000" stroke-width="0.9"/>
<line x1="184.30" y1="342.02" x2="188.50" y2="342.02" stroke="#000" stroke-width="1.15"/>
<rect x="183.07" y="347.14" width="6.65" height="28.16" fill="url(#bg)" stroke="#000" stroke-width="1.45"/>
<line x1="198.15" y1="347.14" x2="198.15" y2="343.81" stroke="#000" stroke-width="0.9"/>
<line x1="196.05" y1="343.81" x2="200.25" y2="343.81" stroke="#000" stroke-width="1.15"/>
<rect x="194.82" y="347.14" width="6.65" height="28.16" fill="url(#bg)" stroke="#000" stroke-width="1.45"/>
<line x1="209.90" y1="344.58" x2="209.90" y2="338.95" stroke="#000" stroke-width="0.9"/>
<line x1="207.80" y1="338.95" x2="212.00" y2="338.95" stroke="#000" stroke-width="1.15"/>
<rect x="206.57" y="344.58" width="6.65" height="30.72" fill="url(#bg)" stroke="#000" stroke-width="1.45"/>
<line x1="221.65" y1="313.86" x2="221.65" y2="304.90" stroke="#000" stroke-width="0.9"/>
<line x1="219.55" y1="304.90" x2="223.75" y2="304.90" stroke="#000" stroke-width="1.15"/>
<rect x="218.32" y="313.86" width="6.65" height="61.44" fill="url(#bg)" stroke="#000" stroke-width="1.45"/>
<text x="221.65" y="303.21" font-size="5.4" text-anchor="middle" class="st">***</text>
<line x1="165.90" y1="297.80" x2="165.90" y2="376.05" stroke="#000" stroke-width="1.5"/>
<line x1="165.15" y1="375.30" x2="231.00" y2="375.30" stroke="#000" stroke-width="1.5"/>
<line x1="164.10" y1="375.30" x2="165.90" y2="375.30" stroke="#000" stroke-width="1.1"/>
<text x="161.10" y="377.54" font-size="6.4" text-anchor="end">0.0</text>
<line x1="164.10" y1="362.50" x2="165.90" y2="362.50" stroke="#000" stroke-width="1.1"/>
<text x="161.10" y="364.74" font-size="6.4" text-anchor="end">0.5</text>
<line x1="164.10" y1="349.70" x2="165.90" y2="349.70" stroke="#000" stroke-width="1.1"/>
<text x="161.10" y="351.94" font-size="6.4" text-anchor="end">1.0</text>
<line x1="164.10" y1="336.90" x2="165.90" y2="336.90" stroke="#000" stroke-width="1.1"/>
<text x="161.10" y="339.14" font-size="6.4" text-anchor="end">1.5</text>
<line x1="164.10" y1="324.10" x2="165.90" y2="324.10" stroke="#000" stroke-width="1.1"/>
<text x="161.10" y="326.34" font-size="6.4" text-anchor="end">2.0</text>
<line x1="164.10" y1="311.30" x2="165.90" y2="311.30" stroke="#000" stroke-width="1.1"/>
<text x="161.10" y="313.54" font-size="6.4" text-anchor="end">2.5</text>
<line x1="164.10" y1="298.50" x2="165.90" y2="298.50" stroke="#000" stroke-width="1.1"/>
<text x="161.10" y="300.74" font-size="6.4" text-anchor="end">3.0</text>
<text x="147.90" y="335.90" font-size="7.3" text-anchor="middle" transform="rotate(-90 147.90 335.90)" textLength="54.5" lengthAdjust="spacingAndGlyphs">iNOS/Actin (fold)</text>
<text x="174.60" y="387.10" font-size="7.3" text-anchor="middle">0</text>
<text x="185.10" y="387.10" font-size="7.3" text-anchor="middle">1</text>
<text x="197.10" y="387.10" font-size="7.3" text-anchor="middle">3</text>
<text x="208.40" y="387.10" font-size="7.3" text-anchor="middle">10</text>
<text x="219.50" y="381.20" font-size="7.3" text-anchor="start" transform="rotate(90 219.50 381.20)">LPS</text>
<line x1="170.60" y1="391.30" x2="213.30" y2="391.30" stroke="#000" stroke-width="1.2"/>
<text x="192.00" y="400.00" font-size="7.3" text-anchor="middle">PPA (μg/ml)</text>
<line x1="279.85" y1="373.26" x2="279.85" y2="372.36" stroke="#000" stroke-width="0.9"/>
<line x1="277.75" y1="372.36" x2="281.95" y2="372.36" stroke="#000" stroke-width="1.15"/>
<rect x="276.52" y="373.26" width="6.65" height="1.54" fill="url(#bg)" stroke="#000" stroke-width="1.45"/>
<line x1="291.45" y1="373.39" x2="291.45" y2="372.49" stroke="#000" stroke-width="0.9"/>
<line x1="289.35" y1="372.49" x2="293.55" y2="372.49" stroke="#000" stroke-width="1.15"/>
<rect x="288.12" y="373.39" width="6.65" height="1.41" fill="url(#bg)" stroke="#000" stroke-width="1.45"/>
<line x1="303.05" y1="373.39" x2="303.05" y2="372.49" stroke="#000" stroke-width="0.9"/>
<line x1="300.95" y1="372.49" x2="305.15" y2="372.49" stroke="#000" stroke-width="1.15"/>
<rect x="299.72" y="373.39" width="6.65" height="1.41" fill="url(#bg)" stroke="#000" stroke-width="1.45"/>
<line x1="314.65" y1="372.23" x2="314.65" y2="370.69" stroke="#000" stroke-width="0.9"/>
<line x1="312.55" y1="370.69" x2="316.75" y2="370.69" stroke="#000" stroke-width="1.15"/>
<rect x="311.32" y="372.23" width="6.65" height="2.57" fill="url(#bg)" stroke="#000" stroke-width="1.45"/>
<line x1="326.25" y1="310.04" x2="326.25" y2="309.01" stroke="#000" stroke-width="0.9"/>
<line x1="324.15" y1="309.01" x2="328.35" y2="309.01" stroke="#000" stroke-width="1.15"/>
<rect x="322.92" y="310.04" width="6.65" height="64.76" fill="url(#bg)" stroke="#000" stroke-width="1.45"/>
<text x="326.25" y="306.82" font-size="5.4" text-anchor="middle" class="st">***</text>
<line x1="270.50" y1="297.00" x2="270.50" y2="375.55" stroke="#000" stroke-width="1.5"/>
<line x1="269.75" y1="374.80" x2="335.70" y2="374.80" stroke="#000" stroke-width="1.5"/>
<line x1="268.70" y1="374.80" x2="270.50" y2="374.80" stroke="#000" stroke-width="1.1"/>
<text x="266.30" y="377.07" font-size="6.5" text-anchor="end">0</text>
<line x1="268.70" y1="361.95" x2="270.50" y2="361.95" stroke="#000" stroke-width="1.1"/>
<text x="266.30" y="364.22" font-size="6.5" text-anchor="end">5</text>
<line x1="268.70" y1="349.10" x2="270.50" y2="349.10" stroke="#000" stroke-width="1.1"/>
<text x="266.30" y="351.38" font-size="6.5" text-anchor="end">10</text>
<line x1="268.70" y1="336.25" x2="270.50" y2="336.25" stroke="#000" stroke-width="1.1"/>
<text x="266.30" y="338.52" font-size="6.5" text-anchor="end">15</text>
<line x1="268.70" y1="323.40" x2="270.50" y2="323.40" stroke="#000" stroke-width="1.1"/>
<text x="266.30" y="325.67" font-size="6.5" text-anchor="end">20</text>
<line x1="268.70" y1="310.55" x2="270.50" y2="310.55" stroke="#000" stroke-width="1.1"/>
<text x="266.30" y="312.82" font-size="6.5" text-anchor="end">25</text>
<line x1="268.70" y1="297.70" x2="270.50" y2="297.70" stroke="#000" stroke-width="1.1"/>
<text x="266.30" y="299.97" font-size="6.5" text-anchor="end">30</text>
<text x="255.40" y="335.80" font-size="8.0" text-anchor="middle" transform="rotate(-90 255.40 335.80)" textLength="32.3" lengthAdjust="spacingAndGlyphs">NO (μM)</text>
<text x="279.30" y="386.90" font-size="7.3" text-anchor="middle">0</text>
<text x="290.30" y="386.90" font-size="7.3" text-anchor="middle">1</text>
<text x="302.20" y="386.90" font-size="7.3" text-anchor="middle">3</text>
<text x="313.80" y="386.90" font-size="7.3" text-anchor="middle">10</text>
<text x="324.40" y="381.20" font-size="7.3" text-anchor="start" transform="rotate(90 324.40 381.20)">LPS</text>
<line x1="276.40" y1="390.60" x2="317.70" y2="390.60" stroke="#000" stroke-width="1.2"/>
<text x="297.00" y="400.00" font-size="7.3" text-anchor="middle">PPA (μg/ml)</text>
<rect x="375.72" y="374.88" width="6.65" height="0.32" fill="url(#bg)" stroke="#000" stroke-width="1.45"/>
<rect x="386.85" y="373.80" width="8.10" height="1.40" fill="#000" stroke="none" stroke-width="0"/>
<line x1="402.75" y1="362.01" x2="402.75" y2="361.05" stroke="#000" stroke-width="0.9"/>
<line x1="400.65" y1="361.05" x2="404.85" y2="361.05" stroke="#000" stroke-width="1.15"/>
<rect x="399.42" y="362.01" width="6.65" height="13.19" fill="url(#bg)" stroke="#000" stroke-width="1.45"/>
<text x="402.75" y="359.15" font-size="5.4" text-anchor="middle" class="st">***</text>
<line x1="414.60" y1="364.58" x2="414.60" y2="364.26" stroke="#000" stroke-width="0.9"/>
<line x1="412.50" y1="364.26" x2="416.70" y2="364.26" stroke="#000" stroke-width="1.15"/>
<rect x="411.27" y="364.58" width="6.65" height="10.62" fill="url(#bg)" stroke="#000" stroke-width="1.45"/>
<text x="414.60" y="362.37" font-size="5.4" text-anchor="middle" class="st">***</text>
<line x1="426.45" y1="311.19" x2="426.45" y2="307.01" stroke="#000" stroke-width="0.9"/>
<line x1="424.35" y1="307.01" x2="428.55" y2="307.01" stroke="#000" stroke-width="1.15"/>
<rect x="423.12" y="311.19" width="6.65" height="64.01" fill="url(#bg)" stroke="#000" stroke-width="1.45"/>
<text x="426.45" y="305.11" font-size="5.4" text-anchor="middle" class="st">***</text>
<line x1="370.80" y1="297.30" x2="370.80" y2="375.95" stroke="#000" stroke-width="1.5"/>
<line x1="370.05" y1="375.20" x2="436.00" y2="375.20" stroke="#000" stroke-width="1.5"/>
<line x1="369.00" y1="375.20" x2="370.80" y2="375.20" stroke="#000" stroke-width="1.1"/>
<text x="365.80" y="377.30" font-size="6.0" text-anchor="end">0.0</text>
<line x1="369.00" y1="365.55" x2="370.80" y2="365.55" stroke="#000" stroke-width="1.1"/>
<text x="365.80" y="367.65" font-size="6.0" text-anchor="end">0.3</text>
<line x1="369.00" y1="355.90" x2="370.80" y2="355.90" stroke="#000" stroke-width="1.1"/>
<text x="365.80" y="358.00" font-size="6.0" text-anchor="end">0.6</text>
<line x1="369.00" y1="346.25" x2="370.80" y2="346.25" stroke="#000" stroke-width="1.1"/>
<text x="365.80" y="348.35" font-size="6.0" text-anchor="end">0.9</text>
<line x1="369.00" y1="336.60" x2="370.80" y2="336.60" stroke="#000" stroke-width="1.1"/>
<text x="365.80" y="338.70" font-size="6.0" text-anchor="end">1.2</text>
<line x1="369.00" y1="326.95" x2="370.80" y2="326.95" stroke="#000" stroke-width="1.1"/>
<text x="365.80" y="329.05" font-size="6.0" text-anchor="end">1.5</text>
<line x1="369.00" y1="317.30" x2="370.80" y2="317.30" stroke="#000" stroke-width="1.1"/>
<text x="365.80" y="319.40" font-size="6.0" text-anchor="end">1.8</text>
<line x1="369.00" y1="307.65" x2="370.80" y2="307.65" stroke="#000" stroke-width="1.1"/>
<text x="365.80" y="309.75" font-size="6.0" text-anchor="end">2.1</text>
<line x1="369.00" y1="298.00" x2="370.80" y2="298.00" stroke="#000" stroke-width="1.1"/>
<text x="365.80" y="300.10" font-size="6.0" text-anchor="end">2.4</text>
<text x="353.00" y="336.90" font-size="7.5" text-anchor="middle" transform="rotate(-90 353.00 336.90)" textLength="41.1" lengthAdjust="spacingAndGlyphs">IL-1β (ng/ml)</text>
<text x="379.10" y="386.90" font-size="7.3" text-anchor="middle">0</text>
<text x="390.90" y="386.90" font-size="7.3" text-anchor="middle">1</text>
<text x="402.70" y="386.90" font-size="7.3" text-anchor="middle">3</text>
<text x="414.40" y="386.90" font-size="7.3" text-anchor="middle">10</text>
<text x="423.70" y="381.20" font-size="7.3" text-anchor="start" transform="rotate(90 423.70 381.20)">LPS</text>
<line x1="375.50" y1="390.70" x2="418.80" y2="390.70" stroke="#000" stroke-width="1.2"/>
<text x="397.00" y="400.00" font-size="7.3" text-anchor="middle">PPA (μg/ml)</text>
</svg>
</body></html>
